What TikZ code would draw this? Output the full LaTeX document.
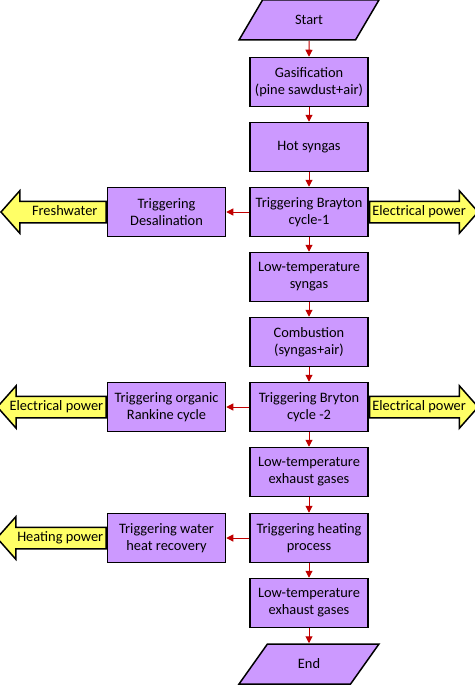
\documentclass[tikz,border=0pt]{standalone}
\usepackage{fontspec}
\setmainfont{Carlito}
\usetikzlibrary{shapes.geometric,shapes.arrows,arrows.meta}
\definecolor{boxfill}{RGB}{204,153,255}
\definecolor{outfill}{RGB}{255,255,102}
\definecolor{flowred}{RGB}{192,0,0}

\begin{document}
\begin{tikzpicture}[x=1pt,y=1pt]
    \tikzstyle{process}=[draw, line width=1.5pt, fill=boxfill, rectangle, minimum width=118pt, minimum height=49pt, inner sep=0pt, align=center, font=\fontsize{14.4}{17}\selectfont]
    \tikzstyle{terminal}=[process, trapezium, trapezium left angle=53.13, trapezium right angle=126.87, trapezium stretches=true, minimum width=140pt, minimum height=40pt]
    \tikzstyle{output}=[draw, line width=1.5pt, fill=outfill, single arrow, single arrow head extend=10.5pt, single arrow tip angle=97, minimum width=41pt, minimum height=105pt, text height=10pt, text depth=3pt, inner ysep=3.5pt, inner xsep=2pt, font=\fontsize{14.4}{17}\selectfont]
    \tikzstyle{flow}=[flowred, line width=1pt, -{Triangle[width=7pt,length=7pt]}]
    \useasboundingbox (0,0) rectangle (474,-685);
    % main column
    \node[terminal] (start) at (309,-20) {Start};
    \node[process] (gas) at (309,-82) {Gasification\\(pine sawdust+air)};
    \node[process] (hot) at (309,-147) {Hot syngas};
    \node[process] (bray1) at (309,-212) {Triggering Brayton\\cycle-1};
    \node[process] (lowsyn) at (309,-277) {Low-temperature\\syngas};
    \node[process] (comb) at (309,-342) {Combustion\\(syngas+air)};
    \node[process] (bray2) at (309,-407) {Triggering Bryton\\cycle -2};
    \node[process] (exh1) at (309,-472) {Low-temperature\\exhaust gases};
    \node[process] (heat) at (309,-538) {Triggering heating\\process};
    \node[process] (exh2) at (309,-603) {Low-temperature\\exhaust gases};
    \node[terminal] (end) at (309,-664) {End};
    % side column
    \node[process] (desal) at (166.5,-212) {Triggering\\Desalination};
    \node[process] (orc) at (166.5,-407) {Triggering organic\\Rankine cycle};
    \node[process] (whr) at (166.5,-538) {Triggering water\\heat recovery};
    % outputs
    \node[output, shape border rotate=180, anchor=tail] (fresh) at (desal.west) {\hspace*{13pt}Freshwater};
    \node[output, anchor=tail] (elec1) at (bray1.east) {Electrical power};
    \node[output, shape border rotate=180, anchor=tail] (elec2) at (orc.west) {Electrical power};
    \node[output, anchor=tail] (elec3) at (bray2.east) {Electrical power};
    \node[output, shape border rotate=180, anchor=tail] (heatout) at (whr.west) {\hspace*{8pt}Heating power};
    % flow
    \draw[flow] (start) -- (gas);
    \draw[flow] (gas) -- (hot);
    \draw[flow] (hot) -- (bray1);
    \draw[flow] (bray1) -- (lowsyn);
    \draw[flow] (lowsyn) -- (comb);
    \draw[flow] (comb) -- (bray2);
    \draw[flow] (bray2) -- (exh1);
    \draw[flow] (exh1) -- (heat);
    \draw[flow] (heat) -- (exh2);
    \draw[flow] (exh2) -- (end);
    \draw[flow] (bray1) -- (desal);
    \draw[flow] (bray2) -- (orc);
    \draw[flow] (heat) -- (whr);
\end{tikzpicture}
\end{document}
